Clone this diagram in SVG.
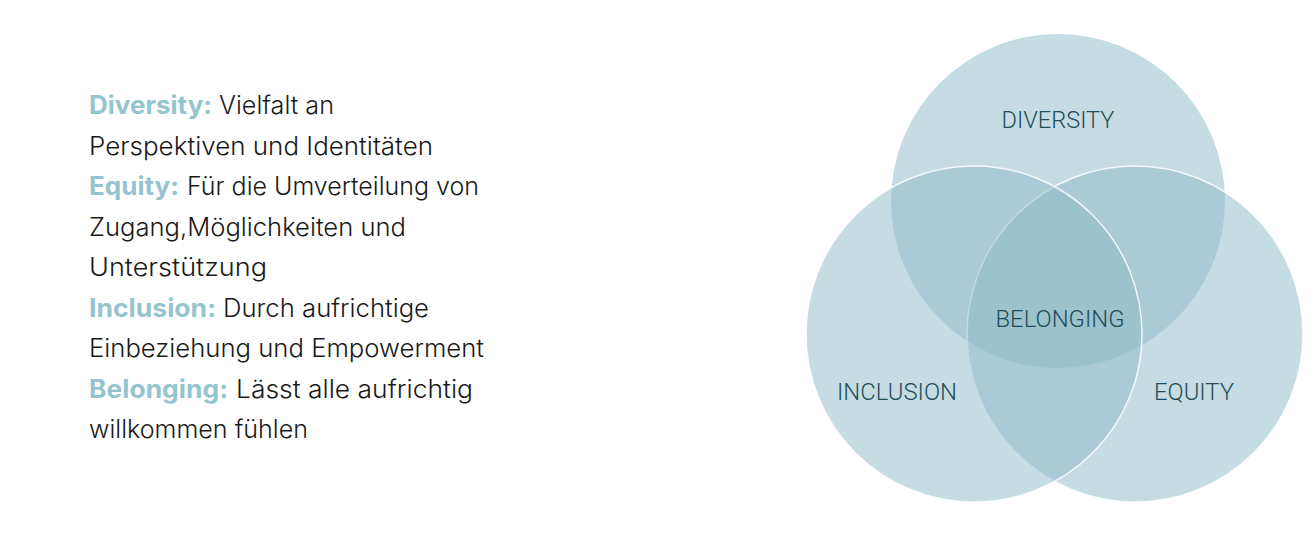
<svg xmlns="http://www.w3.org/2000/svg" width="1316" height="539" viewBox="0 0 1316 539">
<style>
.lab{font-family:Inter,"Noto Sans","Liberation Sans",sans-serif;font-size:25px;font-weight:700;fill:#94c4ce}
.txt{font-family:Inter,"Noto Sans","Liberation Sans",sans-serif;font-size:25px;font-weight:300;fill:#1a1a1a}
.circ{fill:#8db9c7;fill-opacity:0.5}
.edge{stroke:#ffffff;stroke-opacity:0.85;stroke-width:1.5}
.vl{font-family:Roboto,"Liberation Sans",sans-serif;font-size:24px;font-weight:300;fill:#1f4d59;text-anchor:middle}
</style>
<rect width="1316" height="539" fill="#ffffff"/>
<g id="legend">
<text class="lab" x="89" y="114" textLength="123" lengthAdjust="spacingAndGlyphs">Diversity:</text>
<text class="txt" x="219" y="114" textLength="115" lengthAdjust="spacingAndGlyphs">Vielfalt an</text>
<text class="txt" x="89" y="155" textLength="344" lengthAdjust="spacingAndGlyphs">Perspektiven und Identitäten</text>
<text class="lab" x="89" y="195" textLength="90" lengthAdjust="spacingAndGlyphs">Equity:</text>
<text class="txt" x="187" y="195" textLength="292" lengthAdjust="spacingAndGlyphs">Für die Umverteilung von</text>
<text class="txt" x="89" y="236" textLength="317" lengthAdjust="spacingAndGlyphs">Zugang,Möglichkeiten und</text>
<text class="txt" x="89" y="276" textLength="178" lengthAdjust="spacingAndGlyphs">Unterstützung</text>
<text class="lab" x="89" y="317" textLength="127" lengthAdjust="spacingAndGlyphs">Inclusion:</text>
<text class="txt" x="223" y="317" textLength="206" lengthAdjust="spacingAndGlyphs">Durch aufrichtige</text>
<text class="txt" x="89" y="357" textLength="395" lengthAdjust="spacingAndGlyphs">Einbeziehung und Empowerment</text>
<text class="lab" x="89" y="398" textLength="139" lengthAdjust="spacingAndGlyphs">Belonging:</text>
<text class="txt" x="236" y="398" textLength="237" lengthAdjust="spacingAndGlyphs">Lässt alle aufrichtig</text>
<text class="txt" x="89" y="438" textLength="219" lengthAdjust="spacingAndGlyphs">willkommen fühlen</text>
</g>
<g id="diversity">
<circle class="circ" cx="1058" cy="201" r="167"/>
</g>
<g id="equity">
<circle class="circ edge" cx="1135" cy="334" r="168"/>
</g>
<g id="inclusion">
<circle class="circ edge" cx="974" cy="334" r="168"/>
</g>
<g id="labels">
<text class="vl" x="1058" y="128" textLength="113" lengthAdjust="spacingAndGlyphs">DIVERSITY</text>
<text class="vl" x="1060" y="327" textLength="129" lengthAdjust="spacingAndGlyphs">BELONGING</text>
<text class="vl" x="897" y="400" textLength="120" lengthAdjust="spacingAndGlyphs">INCLUSION</text>
<text class="vl" x="1194" y="400" textLength="80" lengthAdjust="spacingAndGlyphs">EQUITY</text>
</g>
<g id="connectors"/>
</svg>
